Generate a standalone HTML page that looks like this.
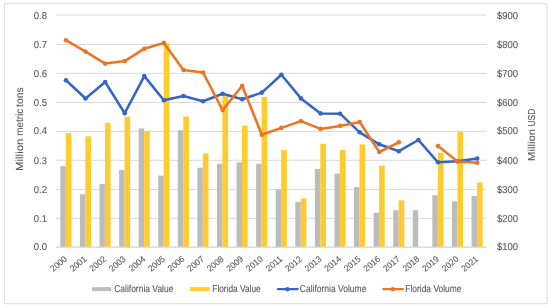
<!DOCTYPE html>
<html><head><meta charset="utf-8"><title>Chart</title>
<style>html,body{margin:0;padding:0;background:#fff}body{width:550px;height:308px;overflow:hidden}svg{display:block}text{font-family:"Liberation Sans",sans-serif;fill:#595959;stroke:#595959;stroke-width:0.1px;text-rendering:geometricPrecision}</style></head><body>
<svg width="550" height="308" viewBox="0 0 550 308">
<rect x="0" y="0" width="550" height="308" fill="#fff"/>
<rect x="4.4" y="3.5" width="542.5" height="300.2" rx="1" fill="#fff" stroke="#e2e2e2" stroke-width="1.3"/>
<line x1="56.00" y1="247.10" x2="486.76" y2="247.10" stroke="#d9d9d9" stroke-width="1"/>
<line x1="56.00" y1="218.30" x2="486.76" y2="218.30" stroke="#d9d9d9" stroke-width="1"/>
<line x1="56.00" y1="189.45" x2="486.76" y2="189.45" stroke="#d9d9d9" stroke-width="1"/>
<line x1="56.00" y1="160.30" x2="486.76" y2="160.30" stroke="#d9d9d9" stroke-width="1"/>
<line x1="56.00" y1="131.45" x2="486.76" y2="131.45" stroke="#d9d9d9" stroke-width="1"/>
<line x1="56.00" y1="102.50" x2="486.76" y2="102.50" stroke="#d9d9d9" stroke-width="1"/>
<line x1="56.00" y1="73.30" x2="486.76" y2="73.30" stroke="#d9d9d9" stroke-width="1"/>
<line x1="56.00" y1="44.45" x2="486.76" y2="44.45" stroke="#d9d9d9" stroke-width="1"/>
<line x1="56.00" y1="15.00" x2="486.76" y2="15.00" stroke="#d9d9d9" stroke-width="1"/>
<rect x="60.34" y="166.20" width="5.45" height="80.90" fill="#bdbcbc"/>
<rect x="65.79" y="133.10" width="5.65" height="114.00" fill="#ffcb2f"/>
<rect x="79.92" y="194.20" width="5.45" height="52.90" fill="#bdbcbc"/>
<rect x="85.37" y="136.30" width="5.65" height="110.80" fill="#ffcb2f"/>
<rect x="99.50" y="184.00" width="5.45" height="63.10" fill="#bdbcbc"/>
<rect x="104.95" y="122.80" width="5.65" height="124.30" fill="#ffcb2f"/>
<rect x="119.08" y="170.00" width="5.45" height="77.10" fill="#bdbcbc"/>
<rect x="124.53" y="116.60" width="5.65" height="130.50" fill="#ffcb2f"/>
<rect x="138.66" y="128.50" width="5.45" height="118.60" fill="#bdbcbc"/>
<rect x="144.11" y="131.00" width="5.65" height="116.10" fill="#ffcb2f"/>
<rect x="158.24" y="175.60" width="5.45" height="71.50" fill="#bdbcbc"/>
<rect x="163.69" y="43.20" width="5.65" height="203.90" fill="#ffcb2f"/>
<rect x="177.82" y="130.20" width="5.45" height="116.90" fill="#bdbcbc"/>
<rect x="183.27" y="116.50" width="5.65" height="130.60" fill="#ffcb2f"/>
<rect x="197.40" y="167.70" width="5.45" height="79.40" fill="#bdbcbc"/>
<rect x="202.85" y="153.40" width="5.65" height="93.70" fill="#ffcb2f"/>
<rect x="216.98" y="163.80" width="5.45" height="83.30" fill="#bdbcbc"/>
<rect x="222.43" y="96.10" width="5.65" height="151.00" fill="#ffcb2f"/>
<rect x="236.56" y="162.30" width="5.45" height="84.80" fill="#bdbcbc"/>
<rect x="242.01" y="125.60" width="5.65" height="121.50" fill="#ffcb2f"/>
<rect x="256.14" y="163.80" width="5.45" height="83.30" fill="#bdbcbc"/>
<rect x="261.59" y="96.90" width="5.65" height="150.20" fill="#ffcb2f"/>
<rect x="275.72" y="189.50" width="5.45" height="57.60" fill="#bdbcbc"/>
<rect x="281.17" y="150.10" width="5.65" height="97.00" fill="#ffcb2f"/>
<rect x="295.30" y="201.90" width="5.45" height="45.20" fill="#bdbcbc"/>
<rect x="300.75" y="198.30" width="5.65" height="48.80" fill="#ffcb2f"/>
<rect x="314.88" y="169.00" width="5.45" height="78.10" fill="#bdbcbc"/>
<rect x="320.33" y="143.80" width="5.65" height="103.30" fill="#ffcb2f"/>
<rect x="334.46" y="173.60" width="5.45" height="73.50" fill="#bdbcbc"/>
<rect x="339.91" y="150.00" width="5.65" height="97.10" fill="#ffcb2f"/>
<rect x="354.04" y="187.10" width="5.45" height="60.00" fill="#bdbcbc"/>
<rect x="359.49" y="144.40" width="5.65" height="102.70" fill="#ffcb2f"/>
<rect x="373.62" y="212.70" width="5.45" height="34.40" fill="#bdbcbc"/>
<rect x="379.07" y="165.70" width="5.65" height="81.40" fill="#ffcb2f"/>
<rect x="393.20" y="210.20" width="5.45" height="36.90" fill="#bdbcbc"/>
<rect x="398.65" y="200.30" width="5.65" height="46.80" fill="#ffcb2f"/>
<rect x="412.78" y="210.20" width="5.45" height="36.90" fill="#bdbcbc"/>
<rect x="432.36" y="195.20" width="5.45" height="51.90" fill="#bdbcbc"/>
<rect x="437.81" y="152.70" width="5.65" height="94.40" fill="#ffcb2f"/>
<rect x="451.94" y="201.30" width="5.45" height="45.80" fill="#bdbcbc"/>
<rect x="457.39" y="131.60" width="5.65" height="115.50" fill="#ffcb2f"/>
<rect x="471.52" y="196.00" width="5.45" height="51.10" fill="#bdbcbc"/>
<rect x="476.97" y="182.30" width="5.65" height="64.80" fill="#ffcb2f"/>
<line x1="56.00" y1="247.10" x2="486.76" y2="247.10" stroke="#d9d9d9" stroke-width="1"/>
<polyline fill="none" stroke="#3565c5" stroke-width="2.55" stroke-linejoin="round" stroke-linecap="round" points="65.99,80.20 85.57,98.50 105.15,82.00 124.73,113.20 144.31,76.10 163.89,100.30 183.47,96.00 203.05,101.20 222.63,93.80 242.21,99.20 261.79,92.60 281.37,74.80 300.95,98.40 320.53,113.40 340.11,113.70 359.69,132.30 379.27,144.30 398.85,151.20 418.43,140.00 438.01,162.30 457.59,161.30 477.17,158.50"/>
<circle cx="65.99" cy="80.20" r="2.3" fill="#3565c5"/>
<circle cx="85.57" cy="98.50" r="2.3" fill="#3565c5"/>
<circle cx="105.15" cy="82.00" r="2.3" fill="#3565c5"/>
<circle cx="124.73" cy="113.20" r="2.3" fill="#3565c5"/>
<circle cx="144.31" cy="76.10" r="2.3" fill="#3565c5"/>
<circle cx="163.89" cy="100.30" r="2.3" fill="#3565c5"/>
<circle cx="183.47" cy="96.00" r="2.3" fill="#3565c5"/>
<circle cx="203.05" cy="101.20" r="2.3" fill="#3565c5"/>
<circle cx="222.63" cy="93.80" r="2.3" fill="#3565c5"/>
<circle cx="242.21" cy="99.20" r="2.3" fill="#3565c5"/>
<circle cx="261.79" cy="92.60" r="2.3" fill="#3565c5"/>
<circle cx="281.37" cy="74.80" r="2.3" fill="#3565c5"/>
<circle cx="300.95" cy="98.40" r="2.3" fill="#3565c5"/>
<circle cx="320.53" cy="113.40" r="2.3" fill="#3565c5"/>
<circle cx="340.11" cy="113.70" r="2.3" fill="#3565c5"/>
<circle cx="359.69" cy="132.30" r="2.3" fill="#3565c5"/>
<circle cx="379.27" cy="144.30" r="2.3" fill="#3565c5"/>
<circle cx="398.85" cy="151.20" r="2.3" fill="#3565c5"/>
<circle cx="418.43" cy="140.00" r="2.3" fill="#3565c5"/>
<circle cx="438.01" cy="162.30" r="2.3" fill="#3565c5"/>
<circle cx="457.59" cy="161.30" r="2.3" fill="#3565c5"/>
<circle cx="477.17" cy="158.50" r="2.3" fill="#3565c5"/>
<polyline fill="none" stroke="#ed7422" stroke-width="2.55" stroke-linejoin="round" stroke-linecap="round" points="65.99,40.20 85.57,51.60 105.15,63.60 124.73,61.10 144.31,48.70 163.89,42.90 183.47,70.00 203.05,72.50 222.63,110.10 242.21,85.70 261.79,134.80 281.37,127.90 300.95,121.10 320.53,128.90 340.11,125.90 359.69,122.00 379.27,152.00 398.85,142.30"/>
<polyline fill="none" stroke="#ed7422" stroke-width="2.55" stroke-linejoin="round" stroke-linecap="round" points="438.01,146.10 457.59,161.50 477.17,162.70"/>
<circle cx="65.99" cy="40.20" r="2.3" fill="#ed7422"/>
<circle cx="85.57" cy="51.60" r="2.3" fill="#ed7422"/>
<circle cx="105.15" cy="63.60" r="2.3" fill="#ed7422"/>
<circle cx="124.73" cy="61.10" r="2.3" fill="#ed7422"/>
<circle cx="144.31" cy="48.70" r="2.3" fill="#ed7422"/>
<circle cx="163.89" cy="42.90" r="2.3" fill="#ed7422"/>
<circle cx="183.47" cy="70.00" r="2.3" fill="#ed7422"/>
<circle cx="203.05" cy="72.50" r="2.3" fill="#ed7422"/>
<circle cx="222.63" cy="110.10" r="2.3" fill="#ed7422"/>
<circle cx="242.21" cy="85.70" r="2.3" fill="#ed7422"/>
<circle cx="261.79" cy="134.80" r="2.3" fill="#ed7422"/>
<circle cx="281.37" cy="127.90" r="2.3" fill="#ed7422"/>
<circle cx="300.95" cy="121.10" r="2.3" fill="#ed7422"/>
<circle cx="320.53" cy="128.90" r="2.3" fill="#ed7422"/>
<circle cx="340.11" cy="125.90" r="2.3" fill="#ed7422"/>
<circle cx="359.69" cy="122.00" r="2.3" fill="#ed7422"/>
<circle cx="379.27" cy="152.00" r="2.3" fill="#ed7422"/>
<circle cx="398.85" cy="142.30" r="2.3" fill="#ed7422"/>
<circle cx="438.01" cy="146.10" r="2.3" fill="#ed7422"/>
<circle cx="457.59" cy="161.50" r="2.3" fill="#ed7422"/>
<circle cx="477.17" cy="162.70" r="2.3" fill="#ed7422"/>
<text transform="translate(47.00,250.40) scale(0.9567,1)" font-size="10.0" text-anchor="end">0.0</text>
<text transform="translate(497.00,250.40) scale(0.9440,1)" font-size="10.0">$100</text>
<text transform="translate(47.00,221.60) scale(0.9567,1)" font-size="10.0" text-anchor="end">0.1</text>
<text transform="translate(497.00,221.60) scale(0.9440,1)" font-size="10.0">$200</text>
<text transform="translate(47.00,192.75) scale(0.9567,1)" font-size="10.0" text-anchor="end">0.2</text>
<text transform="translate(497.00,192.75) scale(0.9440,1)" font-size="10.0">$300</text>
<text transform="translate(47.00,163.60) scale(0.9567,1)" font-size="10.0" text-anchor="end">0.3</text>
<text transform="translate(497.00,163.60) scale(0.9440,1)" font-size="10.0">$400</text>
<text transform="translate(47.00,134.45) scale(0.9567,1)" font-size="10.0" text-anchor="end">0.4</text>
<text transform="translate(497.00,134.45) scale(0.9440,1)" font-size="10.0">$500</text>
<text transform="translate(47.00,105.90) scale(0.9567,1)" font-size="10.0" text-anchor="end">0.5</text>
<text transform="translate(497.00,105.90) scale(0.9440,1)" font-size="10.0">$600</text>
<text transform="translate(47.00,76.60) scale(0.9567,1)" font-size="10.0" text-anchor="end">0.6</text>
<text transform="translate(497.00,76.60) scale(0.9440,1)" font-size="10.0">$700</text>
<text transform="translate(47.00,47.75) scale(0.9567,1)" font-size="10.0" text-anchor="end">0.7</text>
<text transform="translate(497.00,47.75) scale(0.9440,1)" font-size="10.0">$800</text>
<text transform="translate(47.00,18.70) scale(0.9567,1)" font-size="10.0" text-anchor="end">0.8</text>
<text transform="translate(497.00,18.70) scale(0.9440,1)" font-size="10.0">$900</text>
<text transform="translate(67.69,259.90) rotate(-40) scale(0.9714,1)" font-size="8.7" text-anchor="end">2000</text>
<text transform="translate(87.27,259.90) rotate(-40) scale(0.9714,1)" font-size="8.7" text-anchor="end">2001</text>
<text transform="translate(106.85,259.90) rotate(-40) scale(0.9714,1)" font-size="8.7" text-anchor="end">2002</text>
<text transform="translate(126.43,259.90) rotate(-40) scale(0.9714,1)" font-size="8.7" text-anchor="end">2003</text>
<text transform="translate(146.01,259.90) rotate(-40) scale(0.9714,1)" font-size="8.7" text-anchor="end">2004</text>
<text transform="translate(165.59,259.90) rotate(-40) scale(0.9714,1)" font-size="8.7" text-anchor="end">2005</text>
<text transform="translate(185.17,259.90) rotate(-40) scale(0.9714,1)" font-size="8.7" text-anchor="end">2006</text>
<text transform="translate(204.75,259.90) rotate(-40) scale(0.9714,1)" font-size="8.7" text-anchor="end">2007</text>
<text transform="translate(224.33,259.90) rotate(-40) scale(0.9714,1)" font-size="8.7" text-anchor="end">2008</text>
<text transform="translate(243.91,259.90) rotate(-40) scale(0.9714,1)" font-size="8.7" text-anchor="end">2009</text>
<text transform="translate(263.49,259.90) rotate(-40) scale(0.9714,1)" font-size="8.7" text-anchor="end">2010</text>
<text transform="translate(283.07,259.90) rotate(-40) scale(1.0049,1)" font-size="8.7" text-anchor="end">2011</text>
<text transform="translate(302.65,259.90) rotate(-40) scale(0.9714,1)" font-size="8.7" text-anchor="end">2012</text>
<text transform="translate(322.23,259.90) rotate(-40) scale(0.9714,1)" font-size="8.7" text-anchor="end">2013</text>
<text transform="translate(341.81,259.90) rotate(-40) scale(0.9714,1)" font-size="8.7" text-anchor="end">2014</text>
<text transform="translate(361.39,259.90) rotate(-40) scale(0.9714,1)" font-size="8.7" text-anchor="end">2015</text>
<text transform="translate(380.97,259.90) rotate(-40) scale(0.9714,1)" font-size="8.7" text-anchor="end">2016</text>
<text transform="translate(400.55,259.90) rotate(-40) scale(0.9714,1)" font-size="8.7" text-anchor="end">2017</text>
<text transform="translate(420.13,259.90) rotate(-40) scale(0.9714,1)" font-size="8.7" text-anchor="end">2018</text>
<text transform="translate(439.71,259.90) rotate(-40) scale(0.9714,1)" font-size="8.7" text-anchor="end">2019</text>
<text transform="translate(459.29,259.90) rotate(-40) scale(0.9714,1)" font-size="8.7" text-anchor="end">2020</text>
<text transform="translate(478.87,259.90) rotate(-40) scale(0.9714,1)" font-size="8.7" text-anchor="end">2021</text>
<text transform="translate(22.70,170.50) rotate(-90)" font-size="10.3"><tspan x="-0.40" textLength="32.20" lengthAdjust="spacingAndGlyphs">Million</tspan> <tspan x="34.80" textLength="27.00" lengthAdjust="spacingAndGlyphs">metric</tspan> <tspan x="63.50" textLength="19.60" lengthAdjust="spacingAndGlyphs">tons</tspan></text>
<text transform="translate(535.40,160.50) rotate(-90)" font-size="10.1"><tspan x="-0.40" textLength="31.90" lengthAdjust="spacingAndGlyphs">Million</tspan> <tspan x="33.90" textLength="17.90" lengthAdjust="spacingAndGlyphs">USD</tspan></text>
<rect x="92" y="287.15" width="19.2" height="4.0" fill="#bdbcbc"/>
<text transform="translate(114.20,292.20) scale(0.8475,1)" font-size="10.0">California Value</text>
<rect x="190.2" y="287.15" width="19.4" height="4.0" fill="#ffcb2f"/>
<text transform="translate(212.30,292.20) scale(0.8319,1)" font-size="10.0">Florida Value</text>
<line x1="278.0" y1="289.20" x2="297.6" y2="289.20" stroke="#3565c5" stroke-width="2.2" stroke-linecap="round"/>
<circle cx="287.4" cy="289.20" r="2.2" fill="#3565c5"/>
<text transform="translate(299.80,292.20) scale(0.8498,1)" font-size="10.0">California Volume</text>
<line x1="383.4" y1="289.20" x2="403.0" y2="289.20" stroke="#ed7422" stroke-width="2.2" stroke-linecap="round"/>
<circle cx="392.9" cy="289.20" r="2.2" fill="#ed7422"/>
<text transform="translate(405.30,292.20) scale(0.8426,1)" font-size="10.0">Florida Volume</text>
</svg></body></html>
